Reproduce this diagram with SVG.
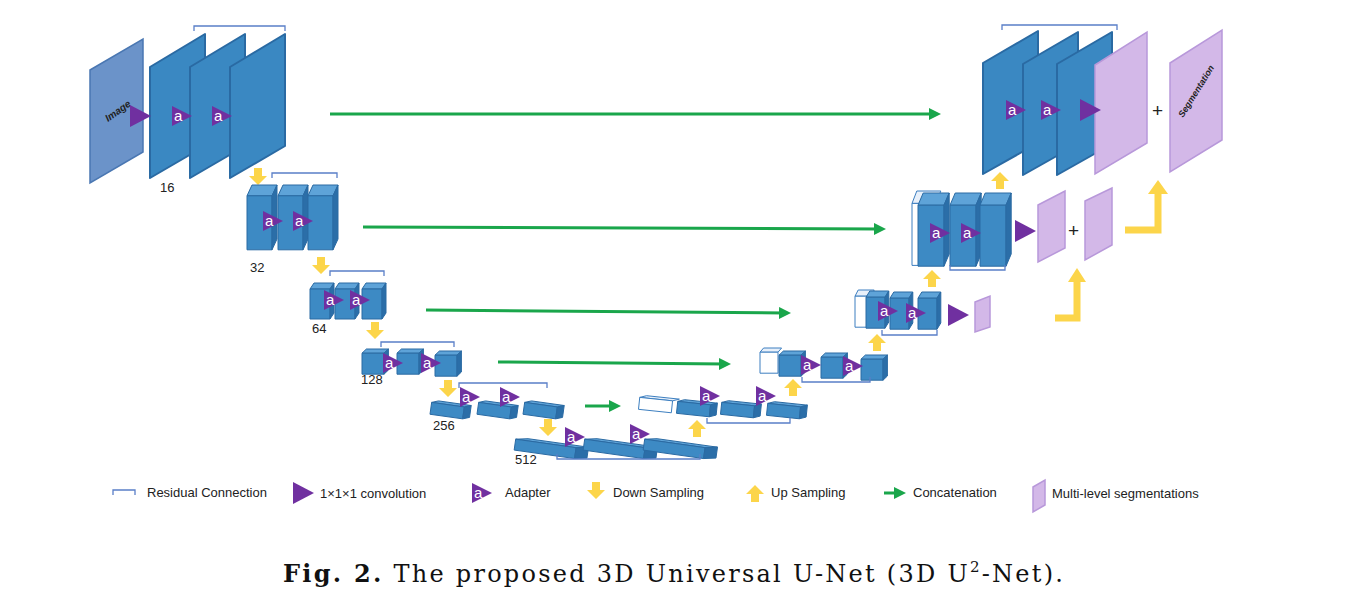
<svg xmlns="http://www.w3.org/2000/svg" xmlns:xlink="http://www.w3.org/1999/xlink" width="1350" height="595" viewBox="0 0 1350 595">
<style>
.pl{fill:#3a88c2;stroke:#2a6aa3;stroke-width:2;stroke-linejoin:round}
.pu{fill:#d3b8e8;stroke:#b898da;stroke-width:1.5}
.br{fill:none;stroke:#5a7fc8;stroke-width:1.3}
.g{stroke:#1aa64b;stroke-width:3;fill:none;marker-end:url(#ga)}
.t{font-family:"Liberation Sans",Arial,sans-serif;font-size:13px;fill:#222}
.a{font-family:"Liberation Sans",Arial,sans-serif;font-size:15px;fill:#fff}
</style>
<defs>
<marker id="ga" viewBox="0 0 10 10" refX="5" refY="5" markerWidth="4" markerHeight="4" orient="auto"><path d="M0,0 L10,5 L0,10z" fill="#1aa64b"/></marker>
<g id="cb">
<polygon points="0,4 4,0 24,0 20,4" fill="#5ea3d8" stroke="#2a6aa3" vector-effect="non-scaling-stroke"/>
<polygon points="0,4 20,4 20,24 0,24" fill="#3d8ac4" stroke="#2a6aa3" vector-effect="non-scaling-stroke"/>
<polygon points="20,4 24,0 24,20 20,24" fill="#2b6ea8" stroke="#2a6aa3" vector-effect="non-scaling-stroke"/>
</g>
<g id="wb">
<polygon points="0,4 4,0 24,0 20,4" fill="#e8f0fa" stroke="#3d7fc0" vector-effect="non-scaling-stroke"/>
<polygon points="0,4 20,4 20,24 0,24" fill="#fff" stroke="#3d7fc0" vector-effect="non-scaling-stroke"/>
</g>
<g id="ad"><polygon points="0,-10 20,0 0,10" fill="#7030a0"/><text x="2" y="5" class="a">a</text></g>
<polygon id="cv" points="0,-11 21,0 0,11" fill="#7030a0"/>
<path id="dn" d="M-4,-9 h8 v8 h5 l-9,9 l-9,-9 h5z" fill="#fcd54a"/>
<path id="up" d="M-4,9 h8 v-8 h5 l-9,-9 l-9,9 h5z" fill="#fcd54a"/>
</defs>

<g id="connectors">
<line class="g" x1="330" y1="114" x2="935" y2="114"/>
<line class="g" x1="363" y1="227" x2="880" y2="229"/>
<line class="g" x1="426" y1="310" x2="785" y2="313"/>
<line class="g" x1="498" y1="362" x2="725" y2="364"/>
<line class="g" x1="585" y1="406" x2="615" y2="406"/>
<use href="#dn" x="258" y="177"/>
<use href="#dn" x="321" y="266"/>
<use href="#dn" x="375" y="331"/>
<use href="#dn" x="448" y="389"/>
<use href="#dn" x="548" y="428"/>
<use href="#up" x="697" y="428"/>
<use href="#up" x="793" y="387"/>
<use href="#up" x="877" y="342"/>
<use href="#up" x="932" y="278"/>
<use href="#up" x="1000" y="180"/>
<path d="M1055,318 H1077 V280" fill="none" stroke="#fcd54a" stroke-width="7"/>
<polygon points="1068,282 1077,268 1086,282" fill="#fcd54a"/>
<path d="M1125,230 H1158 V192" fill="none" stroke="#fcd54a" stroke-width="7"/>
<polygon points="1148,194 1158,180 1168,194" fill="#fcd54a"/>
</g>

<g id="level1">
<polygon points="90,70 143,39 143,152 90,183" fill="#6b93c9" stroke="#4a77b2" stroke-width="1.5"/>
<text transform="translate(108,122) rotate(-35)" font-family="Liberation Sans,Arial,sans-serif" font-size="10" font-weight="bold" font-style="italic" fill="#222">Image</text>
<polygon class="pl" points="150,67 205,34 205,146 150,178"/>
<polygon class="pl" points="190,67 245,34 245,146 190,178"/>
<polygon class="pl" points="230,67 285,34 285,146 230,178"/>
<use href="#cv" x="130" y="116"/>
<use href="#ad" x="172" y="116"/>
<use href="#ad" x="212" y="116"/>
<path class="br" d="M194,31 V26 H285 V31"/>
<text x="160" y="192" class="t">16</text>
</g>

<g id="level2">
<use href="#cb" transform="translate(247,185) scale(1.25,2.7)"/>
<use href="#cb" transform="translate(278,185) scale(1.25,2.7)"/>
<use href="#cb" transform="translate(308,185) scale(1.25,2.7)"/>
<use href="#ad" x="263" y="221"/>
<use href="#ad" x="293" y="221"/>
<path class="br" d="M272,178 V173 H337 V178"/>
<text x="250" y="272" class="t">32</text>
</g>

<g id="level3">
<use href="#cb" transform="translate(310,283) scale(1,1.5)"/>
<use href="#cb" transform="translate(335,283) scale(1,1.5)"/>
<use href="#cb" transform="translate(362,283) scale(1,1.5)"/>
<use href="#ad" x="324" y="300"/>
<use href="#ad" x="350" y="300"/>
<path class="br" d="M330,276 V271 H384 V276"/>
<text x="312" y="333" class="t">64</text>
</g>

<g id="level4">
<use href="#cb" transform="translate(362,349) scale(1.1,1.05)"/>
<use href="#cb" transform="translate(397,349) scale(1.1,1.05)"/>
<use href="#cb" transform="translate(435,351) scale(1.1,1.05)"/>
<use href="#ad" x="383" y="363"/>
<use href="#ad" x="421" y="363"/>
<path class="br" d="M381,347 V342 H454 V347"/>
<text x="361" y="384" class="t">128</text>
</g>

<g id="level5">
<use href="#cb" transform="translate(432,400) rotate(8) scale(1.65,0.6)"/>
<use href="#cb" transform="translate(479,400) rotate(8) scale(1.65,0.6)"/>
<use href="#cb" transform="translate(525,400) rotate(8) scale(1.65,0.6)"/>
<use href="#ad" x="460" y="397"/>
<use href="#ad" x="500" y="397"/>
<path class="br" d="M459,388 V383 H547 V388"/>
<text x="433" y="430" class="t">256</text>
</g>

<g id="level6">
<use href="#cb" transform="translate(516,437) rotate(8) scale(3.05,0.55)"/>
<use href="#cb" transform="translate(585,437) rotate(8) scale(3.05,0.55)"/>
<use href="#cb" transform="translate(645,437) rotate(8) scale(3.05,0.55)"/>
<use href="#ad" x="565" y="437"/>
<use href="#ad" x="630" y="434"/>
<path class="br" d="M557,454 V459 H700 V454"/>
<text x="515" y="464" class="t">512</text>
</g>

<g id="up5">
<use href="#wb" transform="translate(640,395) rotate(6) scale(1.65,0.6)"/>
<use href="#cb" transform="translate(678,399) rotate(6) scale(1.65,0.6)"/>
<use href="#cb" transform="translate(722,400) rotate(6) scale(1.65,0.6)"/>
<use href="#cb" transform="translate(768,401) rotate(6) scale(1.65,0.6)"/>
<use href="#ad" x="700" y="396"/>
<use href="#ad" x="756" y="396"/>
<path class="br" d="M707,418 V423 H790 V418"/>
</g>

<g id="up4">
<use href="#wb" transform="translate(760,348) scale(0.9,1.05)"/>
<use href="#cb" transform="translate(779,351) scale(1.1,1.05)"/>
<use href="#cb" transform="translate(821,353) scale(1.1,1.05)"/>
<use href="#cb" transform="translate(861,355) scale(1.1,1.05)"/>
<use href="#ad" x="801" y="365"/>
<use href="#ad" x="843" y="366"/>
<path class="br" d="M802,377 V382 H870 V377"/>
</g>

<g id="up3">
<use href="#wb" transform="translate(855,290) scale(0.8,1.55)"/>
<use href="#cb" transform="translate(866,291) scale(0.95,1.55)"/>
<use href="#cb" transform="translate(890,292) scale(0.95,1.55)"/>
<use href="#cb" transform="translate(918,292) scale(0.95,1.55)"/>
<use href="#ad" x="878" y="311"/>
<use href="#ad" x="906" y="313"/>
<path class="br" d="M882,330 V335 H937 V330"/>
<use href="#cv" x="948" y="315"/>
<polygon class="pu" points="975,302 990,296 990,327 975,332"/>
</g>

<g id="up2">
<use href="#wb" transform="translate(912,191) scale(1.2,3.1)"/>
<use href="#cb" transform="translate(918,193) scale(1.3,3.05)"/>
<use href="#cb" transform="translate(950,193) scale(1.3,3.05)"/>
<use href="#cb" transform="translate(980,193) scale(1.3,3.05)"/>
<use href="#ad" x="930" y="233"/>
<use href="#ad" x="961" y="233"/>
<path class="br" d="M950,265 V270 H1005 V265"/>
<use href="#cv" x="1015" y="231"/>
<polygon class="pu" points="1038,205 1065,191 1065,248 1038,262"/>
<text x="1068" y="237" font-family="Liberation Sans,Arial,sans-serif" font-size="19" fill="#222">+</text>
<polygon class="pu" points="1085,201 1112,188 1112,245 1085,260"/>
</g>

<g id="up1">
<polygon class="pl" points="983,63 1038,31 1038,143 983,174"/>
<polygon class="pl" points="1023,64 1078,32 1078,144 1023,175"/>
<polygon class="pl" points="1057,64 1112,32 1112,144 1057,175"/>
<polygon class="pu" points="1095,65 1147,32 1147,143 1095,174"/>
<use href="#ad" x="1006" y="110"/>
<use href="#ad" x="1041" y="110"/>
<use href="#cv" x="1080" y="110"/>
<path class="br" d="M1002,30 V25 H1117 V30"/>
<text x="1152" y="117" font-family="Liberation Sans,Arial,sans-serif" font-size="19" fill="#222">+</text>
<polygon class="pu" points="1170,63 1222,30 1222,140 1170,172"/>
<text transform="translate(1183,118) rotate(-58)" font-family="Liberation Sans,Arial,sans-serif" font-size="9" font-weight="bold" font-style="italic" fill="#222">Segmentation</text>
</g>

<g id="legend">
<path class="br" d="M113,495 V490 H135 V495"/>
<text x="147" y="497" class="t">Residual Connection</text>
<use href="#cv" x="293" y="493"/>
<text x="320" y="498" class="t">1×1×1 convolution</text>
<use href="#ad" x="472" y="493"/>
<text x="505" y="497" class="t">Adapter</text>
<use href="#dn" x="596" y="491"/>
<text x="613" y="497" class="t">Down Sampling</text>
<use href="#up" x="755" y="493"/>
<text x="771" y="497" class="t">Up Sampling</text>
<line class="g" x1="884" y1="493" x2="900" y2="493"/>
<text x="913" y="497" class="t">Concatenation</text>
<polygon class="pu" points="1033,487 1045,480 1045,505 1033,512"/>
<text x="1052" y="498" class="t">Multi-level segmentations</text>
</g>

<text x="283" y="582" font-family="DejaVu Serif,serif" font-size="24" fill="#111" textLength="780" lengthAdjust="spacing"><tspan font-weight="bold">Fig. 2.</tspan> The proposed 3D Universal U-Net (3D U<tspan font-size="15" dy="-10">2</tspan><tspan dy="10">-Net).</tspan></text>
</svg>
